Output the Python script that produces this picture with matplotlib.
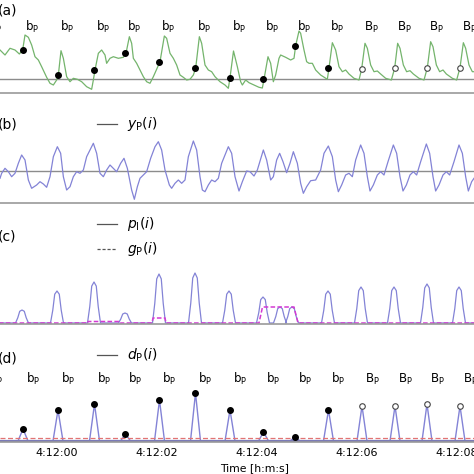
import matplotlib
matplotlib.use('Agg')
import matplotlib.pyplot as plt
from matplotlib.lines import Line2D

# time axis: seconds after 4:12:00
# (a) PPG signal, relative to the threshold line
ppg_t = [-1.14, -1.04, -0.94, -0.84, -0.753, -0.687, -0.64, -0.573, -0.507, -0.44,
         -0.373, -0.307, -0.207, -0.14, -0.073, -0.007, 0.027, 0.08, 0.127, 0.193,
         0.26, 0.327, 0.407, 0.493, 0.593, 0.693, 0.727, 0.76, 0.827, 0.893,
         0.96, 0.993, 1.06, 1.127, 1.227, 1.327, 1.38, 1.447, 1.493, 1.527,
         1.593, 1.66, 1.727, 1.793, 1.86, 1.927, 2.06, 2.147, 2.193, 2.26,
         2.327, 2.393, 2.46, 2.527, 2.593, 2.66, 2.727, 2.773, 2.847, 2.893,
         2.96, 3.027, 3.093, 3.16, 3.26, 3.36, 3.427, 3.46, 3.53, 3.607,
         3.673, 3.707, 3.773, 3.84, 3.94, 4.04, 4.107, 4.14, 4.22, 4.273,
         4.327, 4.373, 4.44, 4.473, 4.573, 4.673, 4.74, 4.773, 4.84, 4.873,
         4.94, 4.993, 5.04, 5.107, 5.173, 5.273, 5.373, 5.407, 5.44, 5.507,
         5.573, 5.64, 5.707, 5.773, 5.84, 5.94, 6.04, 6.093, 6.16, 6.207,
         6.273, 6.34, 6.407, 6.473, 6.573, 6.687, 6.753, 6.813, 6.86, 6.927,
         6.993, 7.06, 7.127, 7.24, 7.34, 7.407, 7.473, 7.52, 7.587, 7.653,
         7.72, 7.787, 7.907, 7.993, 8.06, 8.127, 8.173, 8.24, 8.307, 8.34]
ppg_v = [29, 24, 30.7, 29, 25, 29, 44, 41.7, 34, 22.3,
         19, 12.3, 1.7, -4.3, -6, -1, 4, 28.3, 20.7, 2.3,
         -2.7, 0.7, -0.3, -2.7, -7.7, -10.3, -1, 9, 25.7, 29,
         24, 15.7, 20.7, 22.3, 20.7, 21.7, 25.7, 42.3, 35.7, 20.7,
         15.7, 9, 2.3, -2.7, -4.3, 2.3, 17.3, 43, 40.7, 25.7,
         20.7, 14, 4, 1.7, -1, -0.3, 4, 10.7, 42.3, 35.7,
         14, 9, 7.3, 2.3, -2.7, -6, -9.3, 1.3, 28, 12.3,
         -2.7, -6, -1, -3.7, -6, -8.3, -9, -0.3, 22.3, 15.7,
         -2.7, 4, 20.7, 24, 21.7, 19, 20.7, 33.3, 48, 45.7,
         29, 17.3, 15.7, 15.7, 9, 4, 0.7, -0.3, 11.3, 36.3,
         29, 12.3, 7.3, 9, 5, 0.7, -1, 10, 35.7, 30.7,
         14, 7.3, 8, 5, 0.7, -1, 10.7, 35.7, 30.7, 14,
         7.3, 8.3, 5, 0.7, -1, 11.3, 37.3, 32.3, 14, 7.3,
         9, 5, 0.7, -1, 11.3, 36.3, 30.7, 14, 7.3, 7.3]

# (b) filtered signal y_P(i)
yp_t = [-1.14, -1.107, -1.04, -0.973, -0.907, -0.84, -0.773, -0.707, -0.64, -0.573,
        -0.507, -0.407, -0.34, -0.273, -0.207, -0.14, -0.073, 0.007, 0.073, 0.127,
        0.193, 0.26, 0.327, 0.393, 0.46, 0.527, 0.593, 0.727, 0.793, 0.86,
        0.927, 0.993, 1.06, 1.127, 1.193, 1.273, 1.34, 1.407, 1.493, 1.547,
        1.607, 1.66, 1.727, 1.793, 1.873, 1.96, 2.027, 2.093, 2.16, 2.247,
        2.293, 2.36, 2.427, 2.493, 2.56, 2.627, 2.727, 2.793, 2.86, 2.907,
        2.96, 3.027, 3.093, 3.16, 3.227, 3.293, 3.427, 3.493, 3.56, 3.64,
        3.707, 3.793, 3.86, 3.94, 4.007, 4.127, 4.193, 4.273, 4.327, 4.393,
        4.453, 4.52, 4.593, 4.66, 4.727, 4.807, 4.873, 4.927, 4.993, 5.073,
        5.173, 5.273, 5.34, 5.427, 5.507, 5.573, 5.627, 5.693, 5.773, 5.84,
        5.907, 5.973, 6.073, 6.14, 6.207, 6.26, 6.327, 6.407, 6.473, 6.54,
        6.62, 6.727, 6.793, 6.86, 6.92, 6.987, 7.06, 7.127, 7.193, 7.273,
        7.387, 7.453, 7.52, 7.573, 7.64, 7.72, 7.787, 7.853, 7.94, 8.04,
        8.107, 8.173, 8.227, 8.293, 8.34]
yp_v = [-7.3, -2.3, 2.7, -0.7, -5.7, -2.3, 7.7, 16, 11, -9,
        -17.3, -14, -10.7, -13, -16.3, -5.7, 14.3, 24.3, 17.7, -5.7,
        -19, -15.7, -5.7, -0.7, -2.3, 1, 14.3, 27.7, 17.7, -2.3,
        -5.7, 1, 6, 2.7, -0.7, 7.7, 12.7, 2.7, -19, -28.3,
        -15.7, -7.3, -4, -0.7, 12.7, 24.3, 29.3, 21, 1, -14,
        -17.3, -12.3, -9, -12.3, -9, 14.3, 30, 21, -5.7, -19,
        -20.7, -14, -9, -10.7, -7.3, 7.7, 24.3, 17.7, -5.7, -20,
        -10.7, 0, -0.7, -5, 1, 21, 11, -9, -5.7, 11,
        17.7, 9.3, -1.7, 7.7, 19.3, 7.7, -12.3, -22.3, -15.7, -9.7,
        -9, 1, 17.7, 25, 14.3, -9, -20.7, -14, -4, -2.3,
        -5.7, 11, 26, 17.7, -5.7, -20, -14, -4, -0.7, -4,
        9.3, 26, 17.7, -5.7, -20, -14, -4, -0.7, -4, 9.3,
        27, 17.7, -5.7, -20, -14, -4, -0.7, -4, 9.3, 26,
        17.7, -5.7, -20, -10.7, -7.3]

# (c) pulses p_I(i) and gate g_P(i)
pi_t = [-0.70, 0.00, 0.74, 1.36, 2.04, 2.76, 3.44, 4.12, 4.46, 4.70,
        5.42, 6.08, 6.74, 7.40, 8.04]
pi_h = [13, 32, 41, 10, 49, 50, 32, 26, 16, 16, 32, 36, 36, 39, 36]
gp_t = [-1.2, 0.62, 0.62, 1.26, 1.26, 1.90, 1.92, 2.16, 2.18, 4.04, 4.11, 4.74, 4.82, 8.4]
gp_v = [0, 0, 1.5, 1.5, 0, 0, 5, 5, 0, 0, 16, 16, 0, 0]

# (d) detections d_P(i) and beats
beat_t = [-0.68, 0.02, 0.75, 1.37, 2.05, 2.77, 3.46, 4.13, 4.76, 5.43,
          6.10, 6.76, 7.40, 8.06]
dp_h = [12, 31, 37, 7, 41, 48, 31, 9, 4, 31, 35, 35, 37, 35]
ppg_dot_v = [29, 4, 9, 25.7, 17.3, 10.7, 1.3, -0.3, 33.3, 11.3, 10, 10.7, 11.3, 11.3]
beat_kind = ['b'] * 10 + ['B'] * 4
label_t = [-1.42] + beat_t
label_kind = ['b'] + beat_kind
dp_thr = 3.5

tick_t = [0, 2, 4, 6, 8]
tick_lbl = ['4:12:00', '4:12:02', '4:12:04', '4:12:06', '4:12:08']

GREEN = '#74b46c'
BLUE = '#8383d6'
MAGENTA = '#d33ad3'
RED = '#e27474'
GREY = '#999999'
DARK = '#555555'

W = 474.0
plt.rcParams['mathtext.fontset'] = 'dejavusans'


def fy(px):
    return 1 - px / W


def pulses(times, heights, half_w, sx, sy):
    xs, ys = [-1.3], [0]
    for t, h in zip(times, heights):
        for a, b in zip(sx, sy):
            xs.append(t + a * half_w)
            ys.append(b * h)
    xs.append(8.5)
    ys.append(0)
    return xs, ys


fig = plt.figure(figsize=(4.74, 4.74), dpi=100)
xlim = (-57 / 50, (W - 57) / 50)

ax_a = fig.add_axes([0, fy(93), 1, 93 / W])
ax_b = fig.add_axes([0, fy(203), 1, 95 / W])
ax_c = fig.add_axes([0, fy(324), 1, 112 / W])
ax_d = fig.add_axes([0, fy(442), 1, 100 / W])

for ax in (ax_a, ax_b, ax_c, ax_d):
    ax.set_xlim(*xlim)
    for s in ('top', 'left', 'right'):
        ax.spines[s].set_visible(False)
    ax.spines['bottom'].set_color(GREY)
    ax.spines['bottom'].set_linewidth(1.2)
    ax.set_yticks([])
    ax.set_xticks([])
    ax.patch.set_alpha(0)

# (a)
ax_a.set_ylim(-14, 79)
ax_a.axhline(0, color='#8c8c8c', lw=1.0)
ax_a.plot(ppg_t, ppg_v, color=GREEN, lw=0.9)
for t, v, k in zip(beat_t, ppg_dot_v, beat_kind):
    if k == 'b':
        ax_a.plot(t, v, 'o', ms=4, color='black', zorder=5)
    else:
        ax_a.plot(t, v, 'o', ms=4, mfc='white', mec='#444444', mew=0.8, zorder=5)
for t, k in zip(label_t, label_kind):
    ax_a.text(t + 0.04, 52, k + r'$_\mathrm{P}$', fontsize=8.5, ha='left', va='center')

# (b)
ax_b.set_ylim(-32, 63)
ax_b.axhline(0, color='#8c8c8c', lw=1.0)
ax_b.plot(yp_t, yp_v, color=BLUE, lw=0.9)

# (c)
ax_c.set_ylim(-1, 111)
cx, cy = pulses(pi_t, pi_h, 0.13, [-1, -0.65, -0.35, 0, 0.35, 0.65, 1],
                [0, 0.4, 0.9, 1, 0.9, 0.4, 0])
ax_c.plot(cx, cy, color=BLUE, lw=0.9)
ax_c.plot(gp_t, gp_v, color=MAGENTA, lw=1.1, ls=(0, (3, 1.5)))

# (d)
ax_d.set_ylim(-1, 99)
dx, dy = pulses(beat_t, dp_h, 0.1, [-1, 0, 1], [0, 1, 0])
ax_d.plot(dx, dy, color=BLUE, lw=1.0)
ax_d.axhline(0, color='#7a7ab8', lw=1.6)
ax_d.axhline(dp_thr, color=RED, lw=0.9, ls=(0, (4, 2)))
for t, h, k in zip(beat_t, dp_h, beat_kind):
    if k == 'b':
        ax_d.plot(t, h, 'o', ms=4, color='black', zorder=5)
    else:
        ax_d.plot(t, h, 'o', ms=4, mfc='white', mec='#444444', mew=0.8, zorder=5)
for t, k in zip(label_t, label_kind):
    ax_d.text(t + 0.06, 441 - 379, k + r'$_\mathrm{P}$', fontsize=8.5, ha='left', va='center')
ax_d.set_xticks(tick_t)
ax_d.set_xticklabels(tick_lbl, fontsize=8)
ax_d.tick_params(axis='x', length=0, pad=4)
fig.text(255 / W, fy(468), 'Time [h:m:s]', fontsize=7.8, ha='center', va='center')

# panel letters
for lbl, py in (('(a)', 10), ('(b)', 125), ('(c)', 237), ('(d)', 358)):
    fig.text(-2 / W, fy(py), lbl, fontsize=10, ha='left', va='center')

# legends
leg = [(124, r'$y_\mathrm{P}(i)$', '-'),
       (224, r'$p_\mathrm{I}(i)$', '-'),
       (249, r'$g_\mathrm{P}(i)$', '--'),
       (355, r'$d_\mathrm{P}(i)$', '-')]
for py, txt, ls in leg:
    fig.add_artist(Line2D([97 / W, 117 / W], [fy(py), fy(py)], color=DARK, lw=0.9,
                          ls=ls if ls == '-' else (0, (2.5, 1.5)),
                          transform=fig.transFigure))
    fig.text(127 / W, fy(py), txt, fontsize=10, ha='left', va='center')

fig.savefig('out.png', dpi=100)
